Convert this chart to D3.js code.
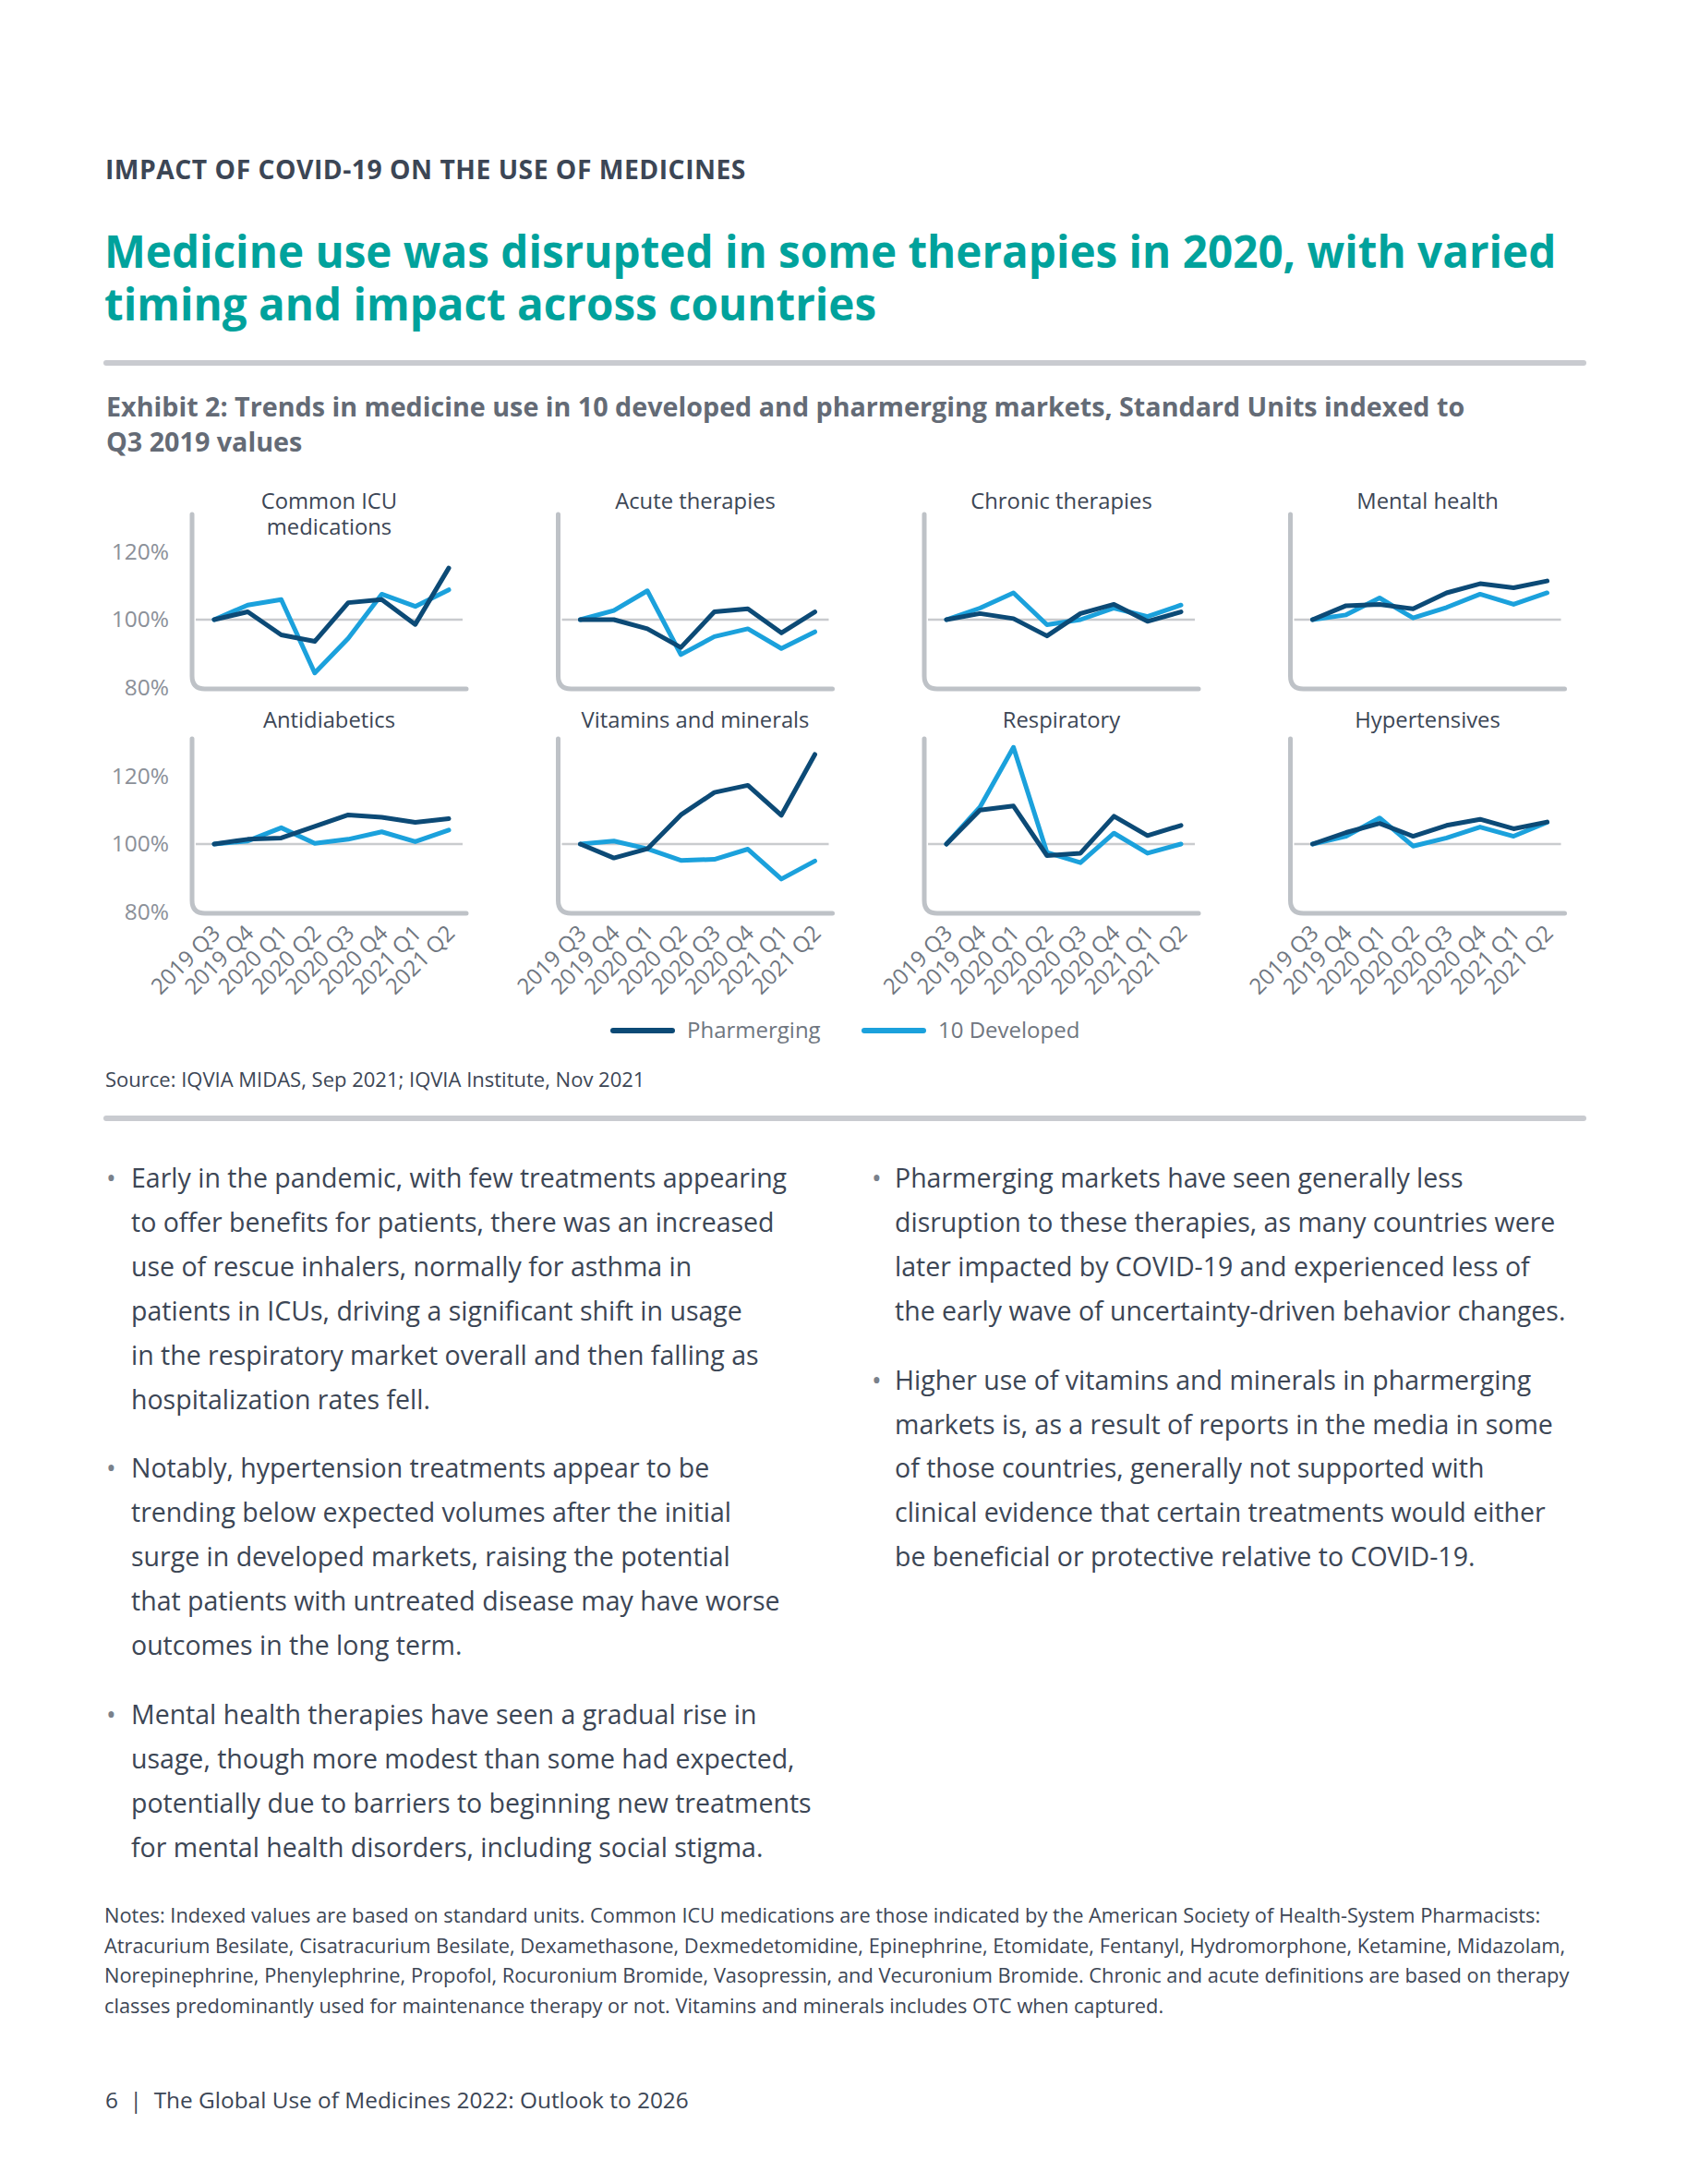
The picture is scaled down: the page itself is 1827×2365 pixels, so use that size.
<!DOCTYPE html>
<html>
<head>
<meta charset="utf-8">
<script src="https://cdn.jsdelivr.net/npm/d3@7"></script>
<style>
  body { margin: 0; background: #fff; }
  text { font-family: "Open Sans", "Noto Sans", sans-serif; }
</style>
</head>
<body>
<script>
const quarters = ["2019 Q3", "2019 Q4", "2020 Q1", "2020 Q2", "2020 Q3", "2020 Q4", "2021 Q1", "2021 Q2"];

const panelTitles = [
  ["Common ICU", "medications"], ["Acute therapies"], ["Chronic therapies"], ["Mental health"],
  ["Antidiabetics"], ["Vitamins and minerals"], ["Respiratory"], ["Hypertensives"]
];

const pharmerging = [
  [100, 102.3, 95.5, 93.6, 105, 105.9, 98.6, 115.2],
  [100, 100, 97.3, 91.8, 102.3, 103.2, 96.1, 102.3],
  [100, 101.8, 100.3, 95.2, 101.8, 104.5, 99.5, 102.3],
  [100, 104.1, 104.5, 103.2, 107.9, 110.6, 109.4, 111.4],
  [100, 101.4, 101.8, 105.2, 108.6, 107.9, 106.4, 107.5],
  [100, 95.9, 98.6, 108.6, 115.2, 117.3, 108.5, 126.4],
  [100, 110, 111.2, 96.6, 97.3, 108.2, 102.5, 105.5],
  [100, 103.4, 106.1, 102.3, 105.5, 107.3, 104.5, 106.5]
];

const developed = [
  [100, 104.3, 105.9, 84.3, 94.5, 107.5, 103.9, 108.8],
  [100, 102.7, 108.5, 89.7, 95, 97.3, 91.5, 96.4],
  [100, 103.4, 107.9, 98.5, 100, 103.4, 100.9, 104.3],
  [100, 101.4, 106.4, 100.5, 103.6, 107.5, 104.5, 107.9],
  [100, 100.9, 104.8, 100.2, 101.4, 103.6, 100.7, 104.1],
  [100, 100.9, 98.6, 95.2, 95.5, 98.5, 89.7, 95],
  [100, 110.9, 128.5, 97.5, 94.5, 103.2, 97.3, 100],
  [100, 102.3, 107.7, 99.4, 101.8, 105, 102.3, 106.4]
];

const yTicks = [80, 100, 120];
const seriesNames = ["Pharmerging", "10 Developed"];
const seriesColors = ["#0c4a76", "#1ba1dc"];

const kicker = "IMPACT OF COVID-19 ON THE USE OF MEDICINES";
const headline = ["Medicine use was disrupted in some therapies in 2020, with varied",
  "timing and impact across countries"];
const exhibit = ["Exhibit 2: Trends in medicine use in 10 developed and pharmerging markets, Standard Units indexed to",
  "Q3 2019 values"];
const source = "Source: IQVIA MIDAS, Sep 2021; IQVIA Institute, Nov 2021";

const leftBullets = [
  ["Early in the pandemic, with few treatments appearing",
   "to offer benefits for patients, there was an increased",
   "use of rescue inhalers, normally for asthma in",
   "patients in ICUs, driving a significant shift in usage",
   "in the respiratory market overall and then falling as",
   "hospitalization rates fell."],
  ["Notably, hypertension treatments appear to be",
   "trending below expected volumes after the initial",
   "surge in developed markets, raising the potential",
   "that patients with untreated disease may have worse",
   "outcomes in the long term."],
  ["Mental health therapies have seen a gradual rise in",
   "usage, though more modest than some had expected,",
   "potentially due to barriers to beginning new treatments",
   "for mental health disorders, including social stigma."]
];
const rightBullets = [
  ["Pharmerging markets have seen generally less",
   "disruption to these therapies, as many countries were",
   "later impacted by COVID-19 and experienced less of",
   "the early wave of uncertainty-driven behavior changes."],
  ["Higher use of vitamins and minerals in pharmerging",
   "markets is, as a result of reports in the media in some",
   "of those countries, generally not supported with",
   "clinical evidence that certain treatments would either",
   "be beneficial or protective relative to COVID-19."]
];
const notes = [
  "Notes: Indexed values are based on standard units. Common ICU medications are those indicated by the American Society of Health-System Pharmacists:",
  "Atracurium Besilate, Cisatracurium Besilate, Dexamethasone, Dexmedetomidine, Epinephrine, Etomidate, Fentanyl, Hydromorphone, Ketamine, Midazolam,",
  "Norepinephrine, Phenylephrine, Propofol, Rocuronium Bromide, Vasopressin, and Vecuronium Bromide. Chronic and acute definitions are based on therapy",
  "classes predominantly used for maintenance therapy or not. Vitamins and minerals includes OTC when captured."
];
const footer = "6  |  The Global Use of Medicines 2022: Outlook to 2026";

const W = 1827, H = 2365;
const textDark = "#3c4655";

var svg = d3.select("body").append("svg")
  .attr("width", W)
  .attr("height", H);

// page header
svg.append("text")
  .attr("x", 114).attr("y", 194)
  .attr("font-size", 28.3).attr("font-weight", 700)
  .attr("letter-spacing", 0.5)
  .attr("fill", textDark)
  .text(kicker);

svg.append("text")
  .attr("font-size", 47.6).attr("font-weight", 700)
  .attr("fill", "#00a29c")
  .selectAll("tspan")
  .data(headline)
  .enter()
  .append("tspan")
  .attr("x", 113)
  .attr("y", function(d, i) { return 290 + i * 57; })
  .text(function(d) { return d; });

svg.selectAll(".rule")
  .data([393, 1211])
  .enter()
  .append("line")
  .attr("x1", 115).attr("x2", 1715)
  .attr("y1", function(d) { return d; })
  .attr("y2", function(d) { return d; })
  .attr("stroke", "#c9cbd0")
  .attr("stroke-width", 6)
  .attr("stroke-linecap", "round");

svg.append("text")
  .attr("font-size", 28.7).attr("font-weight", 700)
  .attr("fill", "#646b76")
  .selectAll("tspan")
  .data(exhibit)
  .enter()
  .append("tspan")
  .attr("x", 115)
  .attr("y", function(d, i) { return 451 + i * 38; })
  .text(function(d) { return d; });

// small multiples
const col0 = 208, colStep = 396.5, axisLen = 297;
const rowBase = [671, 914];
const titleY = [551, 788];

var x = d3.scalePoint().domain(quarters).range([24, 278]);

panelTitles.forEach(function(title, p) {
  var row = Math.floor(p / 4), col = p % 4;
  var ax = col0 + col * colStep;
  var base = rowBase[row];
  var y = d3.scaleLinear().domain([80, 120]).range([base + 73.5, base - 73.5]);
  var top = base - 114, bottom = base + 75, r = 14;

  var g = svg.append("g");

  g.append("path")
    .attr("d", "M" + ax + "," + top + " V" + (bottom - r) +
      " Q" + ax + "," + bottom + " " + (ax + r) + "," + bottom + " H" + (ax + axisLen))
    .attr("fill", "none")
    .attr("stroke", "#bec2c7")
    .attr("stroke-width", 5)
    .attr("stroke-linecap", "round");

  g.append("line")
    .attr("x1", ax + 4).attr("x2", ax + axisLen - 4)
    .attr("y1", y(100)).attr("y2", y(100))
    .attr("stroke", "#c9cbce")
    .attr("stroke-width", 2.5);

  g.append("text")
    .attr("text-anchor", "middle")
    .attr("font-size", 23.8)
    .attr("fill", textDark)
    .selectAll("tspan")
    .data(title)
    .enter()
    .append("tspan")
    .attr("x", ax + axisLen / 2)
    .attr("y", function(d, i) { return titleY[row] + i * 28; })
    .text(function(d) { return d; });

  if (col == 0) {
    g.selectAll(".ytick")
      .data(yTicks)
      .enter()
      .append("text")
      .attr("x", ax - 25)
      .attr("y", function(d) { return y(d); })
      .attr("dy", "0.33em")
      .attr("text-anchor", "end")
      .attr("font-size", 24.5)
      .attr("fill", "#8b9099")
      .text(function(d) { return d + "%"; });
  }

  var line = d3.line()
    .x(function(d, i) { return ax + x(quarters[i]); })
    .y(function(d) { return y(d); });

  [developed[p], pharmerging[p]].forEach(function(vals, s) {
    g.append("path")
      .datum(vals)
      .attr("d", line)
      .attr("fill", "none")
      .attr("stroke", s == 0 ? seriesColors[1] : seriesColors[0])
      .attr("stroke-width", 5)
      .attr("stroke-linejoin", "round")
      .attr("stroke-linecap", "round");
  });

  if (row == 1) {
    g.selectAll(".xtick")
      .data(quarters)
      .enter()
      .append("text")
      .attr("transform", function(d) {
        return "translate(" + (ax + x(d) + 8) + "," + (bottom + 23) + ") rotate(-45)";
      })
      .attr("text-anchor", "end")
      .attr("font-size", 24)
      .attr("fill", "#6f7680")
      .text(function(d) { return d; });
  }
});

// legend
var legendX = [664, 936];
seriesNames.forEach(function(name, i) {
  svg.append("line")
    .attr("x1", legendX[i]).attr("x2", legendX[i] + 64)
    .attr("y1", 1116).attr("y2", 1116)
    .attr("stroke", seriesColors[i])
    .attr("stroke-width", 6)
    .attr("stroke-linecap", "round");
  svg.append("text")
    .attr("x", legendX[i] + 80).attr("y", 1116)
    .attr("dy", "0.35em")
    .attr("font-size", 24)
    .attr("fill", "#6f7680")
    .text(name);
});

svg.append("text")
  .attr("x", 114).attr("y", 1177)
  .attr("font-size", 22)
  .attr("fill", textDark)
  .text(source);

// body text
const lineH = 47.9, paraGap = 27;
function bullets(list, bx, tx) {
  var yy = 1286;
  list.forEach(function(para) {
    svg.append("text")
      .attr("x", bx).attr("y", yy)
      .attr("font-size", 28.5)
      .attr("fill", "#7a818b")
      .text("\u2022");
    para.forEach(function(l, i) {
      svg.append("text")
        .attr("x", tx).attr("y", yy + i * lineH)
        .attr("font-size", 28.5)
        .attr("fill", textDark)
        .text(l);
    });
    yy += para.length * lineH + paraGap;
  });
}
bullets(leftBullets, 115, 142);
bullets(rightBullets, 944, 969);

svg.selectAll(".note")
  .data(notes)
  .enter()
  .append("text")
  .attr("x", 113)
  .attr("y", function(d, i) { return 2082 + i * 32.7; })
  .attr("font-size", 21.8)
  .attr("fill", textDark)
  .text(function(d) { return d; });

svg.append("text")
  .attr("x", 114).attr("y", 2283)
  .attr("font-size", 24.4)
  .attr("fill", textDark)
  .style("white-space", "pre")
  .text(footer);
</script>
</body>
</html>
